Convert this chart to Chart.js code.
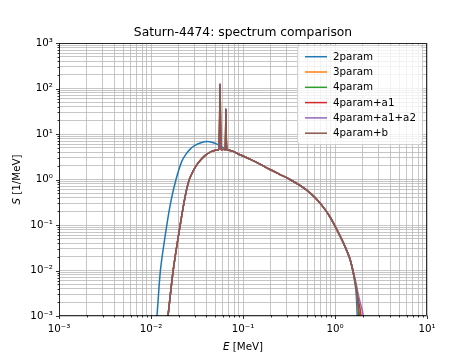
<!DOCTYPE html>
<html><head><meta charset="utf-8">
<script src="https://cdn.jsdelivr.net/npm/chart.js@4/dist/chart.umd.min.js"></script>
<style>html,body{margin:0;padding:0;background:#fff}canvas{display:block}</style>
</head><body>
<canvas id="c" width="474" height="355"></canvas>
<script>
const titleText = 'Saturn-4474: spectrum comparison';
const xTitleItalic = 'E', xTitleRest = ' [MeV]';
const yTitleItalic = 'S', yTitleRest = ' [1/MeV]';
const seriesNames = ['2param', '3param', '4param', '4param+a1', '4param+a1+a2', '4param+b'];
const seriesColors = ['#1f77b4', '#ff7f0e', '#2ca02c', '#d62728', '#9467bd', '#8c564b'];
const xMajorTicks = [0.001, 0.01, 0.1, 1, 10];
const xTickLabels = ['10⁻³', '10⁻²', '10⁻¹', '10⁰', '10¹'];
const yMajorTicks = [0.001, 0.01, 0.1, 1, 10, 100, 1000];
const yTickLabels = ['10⁻³', '10⁻²', '10⁻¹', '10⁰', '10¹', '10²', '10³'];

const energy2param = [0.0110, 0.0116, 0.0127, 0.0148, 0.0165, 0.0187, 0.0216, 0.0240, 0.0265, 0.0300, 0.0356, 0.0410, 0.0457, 0.0520, 0.0587, 0.078, 0.0927, 0.119, 0.155, 0.1965, 0.25, 0.324, 0.42, 0.535, 0.65, 0.778, 0.883, 1.0, 1.23, 1.456, 1.6, 1.69, 1.74, 1.76];
const s2param = [0.0004, 0.001, 0.0107, 0.095, 0.34, 1.0, 2.5, 3.6, 4.6, 5.6, 6.5, 6.8, 6.6, 6.0, 5.2, 4.15, 3.5, 2.8, 2.15, 1.66, 1.3, 1.0, 0.73, 0.51, 0.345, 0.22, 0.15, 0.095, 0.041, 0.0177, 0.0076, 0.0035, 0.0012, 0.0006];

const energyFits = [0.0145, 0.0153, 0.0175, 0.0207, 0.0235, 0.026, 0.0288, 0.0314, 0.035, 0.0386, 0.045, 0.0497, 0.0545, 0.0562, 0.058, 0.0615, 0.064, 0.0653, 0.0667, 0.072, 0.078, 0.0927, 0.119, 0.155, 0.1965, 0.25, 0.324, 0.42, 0.535, 0.65, 0.778, 0.883, 1.0, 1.23, 1.456, 1.6, 1.72, 1.8, 1.9, 2.0, 2.1];
const s3param = [0.0004, 0.001, 0.0107, 0.096, 0.42, 0.98, 1.55, 2.1, 2.75, 3.36, 4.1, 4.39, 4.6, 126, 4.6, 4.6, 4.55, 35, 4.5, 4.35, 4.15, 3.5, 2.8, 2.15, 1.66, 1.3, 1.0, 0.73, 0.51, 0.345, 0.22, 0.15, 0.095, 0.041, 0.0177, 0.0078, 0.0034, 0.0012, 0.0003, null, null];
const s4param = [0.0004, 0.001, 0.0107, 0.096, 0.42, 0.98, 1.55, 2.1, 2.75, 3.36, 4.1, 4.39, 4.6, 126, 4.6, 4.6, 4.55, 35, 4.5, 4.35, 4.15, 3.5, 2.8, 2.15, 1.66, 1.3, 1.0, 0.73, 0.51, 0.345, 0.22, 0.15, 0.095, 0.041, 0.0177, 0.0078, 0.0035, 0.0013, 0.0004, null, null];
const s4paramA1 = [0.0004, 0.001, 0.0107, 0.096, 0.42, 0.98, 1.55, 2.1, 2.75, 3.36, 4.1, 4.39, 4.6, 126, 4.6, 4.6, 4.55, 35, 4.5, 4.35, 4.15, 3.5, 2.8, 2.15, 1.66, 1.3, 1.0, 0.73, 0.51, 0.345, 0.22, 0.15, 0.095, 0.041, 0.0177, 0.0082, 0.004, 0.0022, 0.0012, 0.0004, null];
const s4paramA1A2 = [0.0004, 0.001, 0.0107, 0.096, 0.42, 0.98, 1.55, 2.1, 2.75, 3.36, 4.1, 4.39, 4.6, 126, 4.6, 4.6, 4.55, 35, 4.5, 4.35, 4.15, 3.5, 2.8, 2.15, 1.66, 1.3, 1.0, 0.73, 0.51, 0.345, 0.22, 0.15, 0.095, 0.041, 0.0177, 0.0085, 0.0044, 0.0028, 0.0018, 0.0012, 0.0004];
const s4paramB = [0.0004, 0.001, 0.0107, 0.096, 0.42, 0.98, 1.55, 2.1, 2.75, 3.36, 4.1, 4.39, 4.6, 126, 4.6, 4.6, 4.55, 35, 4.5, 4.35, 4.15, 3.5, 2.8, 2.15, 1.66, 1.3, 1.0, 0.73, 0.51, 0.345, 0.22, 0.15, 0.095, 0.041, 0.0177, 0.008, 0.0037, 0.0016, 0.0005, null, null];

const seriesEnergy = [energy2param, energyFits, energyFits, energyFits, energyFits, energyFits];
const seriesValues = [s2param, s3param, s4param, s4paramA1, s4paramA1A2, s4paramB];

const FONT = "'DejaVu Sans', sans-serif";
function allTicks(majors) {
  const out = [];
  for (let i = 0; i < majors.length; i++) {
    out.push(majors[i]);
    if (i < majors.length - 1) for (let m = 2; m <= 9; m++) out.push(majors[i] * m);
  }
  return out.sort((a, b) => a - b);
}
function isMajor(v, majors) { return majors.some(m => Math.abs(v / m - 1) < 1e-6); }
function labelFor(v, majors, labels) {
  const i = majors.findIndex(m => Math.abs(v / m - 1) < 1e-6);
  return i >= 0 ? labels[i] : '';
}

const datasets = seriesNames.map((name, i) => ({
  label: name,
  data: seriesEnergy[i].map((e, k) => ({ x: e, y: seriesValues[i][k] })),
  borderColor: seriesColors[i],
  backgroundColor: seriesColors[i],
  borderWidth: 1.5,
  pointRadius: 0,
  fill: false,
  tension: 0.3,
  spanGaps: false,
  order: seriesNames.length - i
}));

const decor = {
  id: 'decor',
  afterDatasetsDraw(chart) {
    const ctx = chart.ctx, a = chart.chartArea;
    ctx.save();
    ctx.strokeStyle = '#000'; ctx.lineWidth = 0.8;
    const L = Math.round(a.left) + 0.5, R = Math.round(a.right) - 0.5;
    const T = Math.round(a.top) + 0.5, B = Math.round(a.bottom) - 0.5;
    ctx.strokeRect(L, T, R - L, B - T);
    const xs = chart.scales.x, ys = chart.scales.y;
    ctx.beginPath();
    xs.ticks.forEach(t => {
      const p = Math.round(xs.getPixelForValue(t.value)) + 0.5;
      const len = isMajor(t.value, xMajorTicks) ? 3.5 : 2;
      ctx.moveTo(p, B); ctx.lineTo(p, B + len);
    });
    ys.ticks.forEach(t => {
      const p = Math.round(ys.getPixelForValue(t.value)) + 0.5;
      const len = isMajor(t.value, yMajorTicks) ? 3.5 : 2;
      ctx.moveTo(L, p); ctx.lineTo(L - len, p);
    });
    ctx.stroke();
    // legend
    const bx = 297.5, by = 45.5, bw = 125, bh = 99, r = 3;
    ctx.beginPath();
    ctx.moveTo(bx + r, by); ctx.lineTo(bx + bw - r, by); ctx.quadraticCurveTo(bx + bw, by, bx + bw, by + r);
    ctx.lineTo(bx + bw, by + bh - r); ctx.quadraticCurveTo(bx + bw, by + bh, bx + bw - r, by + bh);
    ctx.lineTo(bx + r, by + bh); ctx.quadraticCurveTo(bx, by + bh, bx, by + bh - r);
    ctx.lineTo(bx, by + r); ctx.quadraticCurveTo(bx, by, bx + r, by);
    ctx.closePath();
    ctx.fillStyle = 'rgba(255,255,255,0.8)'; ctx.fill();
    ctx.strokeStyle = '#cccccc'; ctx.lineWidth = 0.8; ctx.stroke();
    ctx.font = '10.3px ' + FONT; ctx.textBaseline = 'middle'; ctx.textAlign = 'left';
    chart.data.datasets.forEach((d, i) => {
      const y = 56.7 + 15.3 * i;
      ctx.strokeStyle = d.borderColor; ctx.lineWidth = 1.5;
      ctx.beginPath(); ctx.moveTo(305, y); ctx.lineTo(327, y); ctx.stroke();
      ctx.fillStyle = '#000'; ctx.fillText(d.label, 333, y + 0.5);
    });
    // title
    ctx.font = '12.3px ' + FONT; ctx.textAlign = 'center'; ctx.textBaseline = 'alphabetic';
    ctx.fillStyle = '#000';
    ctx.fillText(titleText, (a.left + a.right) / 2, 36);
    // axis titles
    const f1 = 'italic 10.3px ' + FONT, f2 = '10.3px ' + FONT;
    ctx.font = f1; const w1 = ctx.measureText(xTitleItalic).width;
    ctx.font = f2; const w2 = ctx.measureText(xTitleRest).width;
    let x0 = (a.left + a.right) / 2 - (w1 + w2) / 2;
    ctx.textAlign = 'left';
    ctx.font = f1; ctx.fillText(xTitleItalic, x0, 350);
    ctx.font = f2; ctx.fillText(xTitleRest, x0 + w1, 350);
    ctx.save();
    ctx.translate(19.5, (a.top + a.bottom) / 2);
    ctx.rotate(-Math.PI / 2);
    ctx.font = f1; const v1 = ctx.measureText(yTitleItalic).width;
    ctx.font = f2; const v2 = ctx.measureText(yTitleRest).width;
    x0 = -(v1 + v2) / 2;
    ctx.font = f1; ctx.fillText(yTitleItalic, x0, 0);
    ctx.font = f2; ctx.fillText(yTitleRest, x0 + v1, 0);
    ctx.restore();
    ctx.restore();
  }
};

new Chart(document.getElementById('c'), {
  type: 'line',
  data: { datasets },
  plugins: [decor],
  options: {
    responsive: false,
    animation: false,
    events: [],
    layout: { padding: { left: 0, right: 47, top: 43, bottom: 0 } },
    plugins: { legend: { display: false }, title: { display: false }, tooltip: { enabled: false } },
    scales: {
      x: {
        type: 'logarithmic', min: 0.001, max: 10,
        afterBuildTicks: s => { s.ticks = allTicks(xMajorTicks).map(v => ({ value: v })); },
        afterFit: s => { s.height = 39; },
        ticks: {
          autoSkip: false, maxRotation: 0, minRotation: 0, padding: 7.5,
          color: '#000', font: { family: FONT, size: 10.3 },
          callback: v => labelFor(v, xMajorTicks, xTickLabels)
        },
        grid: { color: '#b8b8b8', lineWidth: 0.8, drawTicks: false },
        border: { display: false }
      },
      y: {
        type: 'logarithmic', min: 0.001, max: 1000,
        afterBuildTicks: s => { s.ticks = allTicks(yMajorTicks).map(v => ({ value: v })); },
        afterFit: s => { s.width = 59; },
        ticks: {
          autoSkip: false, padding: 6,
          color: '#000', font: { family: FONT, size: 10.3 },
          callback: v => labelFor(v, yMajorTicks, yTickLabels)
        },
        grid: { color: '#b8b8b8', lineWidth: 0.8, drawTicks: false },
        border: { display: false }
      }
    }
  }
});
</script>
</body></html>
